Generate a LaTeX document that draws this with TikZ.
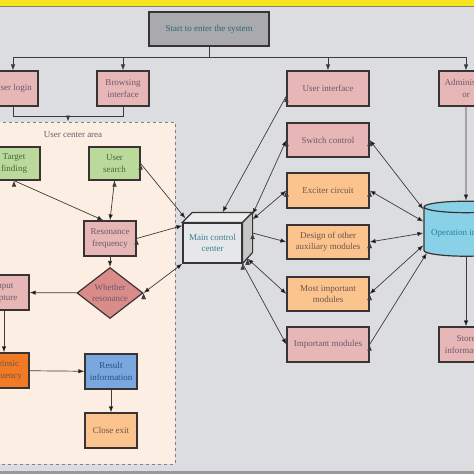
\documentclass[tikz,border=0pt]{standalone}
\usepackage{fontspec}
\setmainfont{Liberation Serif}
\usetikzlibrary{shapes,calc,arrows.meta}

\definecolor{bgrey}{HTML}{DCDDE0}
\definecolor{yband}{HTML}{F4E51C}
\definecolor{boxline}{HTML}{3A3333}
\definecolor{arrowc}{HTML}{3C3C3C}
\definecolor{pinkfill}{HTML}{E7B6B6}
\definecolor{pinktext}{HTML}{6E5A6A}
\definecolor{orfill}{HTML}{FBC48F}
\definecolor{ortext}{HTML}{6E5446}
\definecolor{grfill}{HTML}{BAD99B}
\definecolor{grtext}{HTML}{3F6B3A}
\definecolor{areafill}{HTML}{FCEEE2}
\definecolor{intrfill}{HTML}{F07B24}
\definecolor{resfill}{HTML}{7BA7DF}
\definecolor{restext}{HTML}{24508A}
\definecolor{diafill}{HTML}{D98C89}
\definecolor{cylfill}{HTML}{88D1E6}
\definecolor{cyltext}{HTML}{2F7F9A}
\definecolor{startfill}{HTML}{A8AAAD}
\definecolor{maintext}{HTML}{3F7F8E}

\begin{document}
\begin{tikzpicture}[x=1pt,y=-1pt,font=\fontsize{9}{11.5}\selectfont]
\tikzstyle{box}=[draw=boxline,line width=1.2pt,minimum width=52pt,minimum height=35pt,align=center,inner sep=1pt];
\tikzstyle{pink}=[box,fill=pinkfill,text=pinktext];
\tikzstyle{orange}=[box,fill=orfill,text=ortext];
\tikzstyle{green}=[box,fill=grfill,text=grtext,minimum height=33pt];
\tikzstyle{wide}=[minimum width=82pt];
\tikzstyle{dir}=[-{Latex[length=6pt,width=4.5pt]},draw=arrowc,line width=0.7pt];
\tikzstyle{bdir}=[{Latex[length=6pt,width=4.5pt]}-{Latex[length=6pt,width=4.5pt]},draw=arrowc,line width=0.7pt];
\useasboundingbox (0,0) rectangle (474,474);
\clip (0,0) rectangle (474,474);
\fill [bgrey] (0,0) rectangle (474,474);
\fill [yband] (0,0) rectangle (474,6);
\draw [gray,line width=0.8pt] (0,6.5) -- (474,6.5);
\fill [gray!80] (0,471) rectangle (474,474);
% user center area
\node [draw=gray,dashed,line width=0.9pt,fill=areafill,minimum width=185pt,minimum height=342pt] (area) at (82.5,293) {};
\node [text=pinktext] (areatitle) at (73,135) {User center area};
% top row
\node [box,fill=startfill,text=maintext!80!black,minimum width=120pt,minimum height=34pt] (start) at (209,29) {Start to enter the system};
\node [pink,minimum width=50pt] (login) at (13,88.5) {User login};
\node [pink] (browse) at (123,88.5) {Browsing\\interface};
\node [pink,wide] (uiface) at (328,88.5) {User interface};
\node [pink,minimum width=54pt] (admin) at (466,88.5) {Administrat\\or};
\draw [draw=arrowc,line width=0.7pt] (start.south) -- ++(0,11) coordinate (split);
\draw [dir] (split) -| (login);
\draw [dir] (split) -| (browse);
\draw [dir] (split) -| (uiface);
\draw [dir] (split) -| (admin);
\coordinate (join) at (68,116);
\draw [draw=arrowc,line width=0.7pt] (login.south) |- (browse.south |- join) -- (browse.south);
\draw [dir] (join) -- (join |- area.north);
% user center
\node [green] (target) at (14,163.5) {Target\\finding};
\node [green,minimum width=51pt] (usearch) at (114.5,163.5) {User\\search};
\node [pink] (resfreq) at (110,238.5) {Resonance\\frequency};
\node [diamond,draw=boxline,line width=1.2pt,fill=diafill,text=pinktext,align=center,aspect=1.3,inner sep=-1pt,minimum width=66pt,minimum height=51pt] (whether) at (110,293) {Whether\\resonance};
\node [pink,minimum width=50pt] (inpcap) at (4,292.5) {Input\\capture};
\node [box,fill=intrfill,text=ortext,minimum width=50pt] (intrin) at (4,370.5) {Intrinsic\\frequency};
\node [box,fill=resfill,text=restext] (result) at (111,371.5) {Result\\information};
\node [orange] (closeexit) at (111,430.5) {Close exit};
\draw [dir] (target.south) edge (resfreq.110);
\draw [dir] (usearch.south) edge (resfreq.north);
\draw [dir] (resfreq) edge (whether);
\draw [dir] (whether) edge (inpcap);
\draw [dir] (inpcap) edge (intrin);
\draw [dir] (intrin) edge (result);
\draw [dir] (result) edge (closeexit);
% main control center
\node [box,fill=bgrey!70!white,text=maintext,minimum width=59pt,minimum height=40pt] (main) at (212.5,243) {Main control\\center};
\filldraw [draw=boxline,line width=1.2pt,fill=gray!15] (main.north west) -- ++(10,-10) -- ($(main.north east)+(10,-10)$) -- (main.north east) -- cycle;
\filldraw [draw=boxline,line width=1.2pt,fill=gray!45] (main.north east) -- ++(10,-10) -- ++(0,40) -- (main.south east) -- cycle;
\draw [dir] (usearch.east) edge ($(main.north west)+(3,-4)$);
\draw [dir] (resfreq.east) edge (main.150);
\draw [bdir] (whether.east) edge (main.south west);
% right column
\node [pink,wide,minimum height=34pt] (switch) at (328,140) {Switch control};
\node [orange,wide] (exciter) at (328,190.5) {Exciter circuit};
\node [orange,wide,minimum height=34pt] (design) at (328,242) {Design of other\\auxiliary modules};
\node [orange,wide,minimum height=34pt] (mostimp) at (328,294) {Most important\\modules};
\node [pink,wide] (important) at (328,344.5) {Important modules};
\draw [dir] (uiface.190) edge ($(main.north)+(10,-10)$);
\draw [bdir] (switch.west) edge ($(main.north east)+(10,-8)$);
\draw [bdir] (exciter.west) edge ($(main.north east)+(10,-3)$);
\draw [dir] ($(main.east)+(10,-10)$) edge (design.west);
\draw [bdir] ($(main.south east)+(5,-5)$) edge (mostimp.west);
\draw [dir] (main.south east) edge (important.west);
% operation side
\node [cylinder,shape border rotate=90,aspect=0.15,draw=boxline,line width=1.2pt,fill=cylfill,text=cyltext,minimum width=84pt,minimum height=55pt] (opiface) at (466,233) {Operation interface};
\node [pink,minimum width=54pt] (store) at (466,344.5) {Store\\information};
\draw [dir] (admin) edge (opiface);
\draw [dir] (opiface) edge (store);
\draw [bdir] (switch.east) edge (opiface.151);
\draw [bdir] (exciter.east) edge (opiface.165);
\draw [bdir] (design.east) edge (opiface.180);
\draw [bdir] (mostimp.east) edge (opiface.196);
\draw [dir] (important.east) edge (opiface.207);
\end{tikzpicture}
\end{document}
